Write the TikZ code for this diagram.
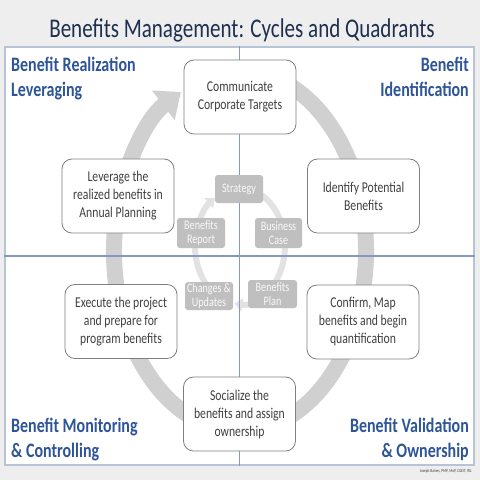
\documentclass[tikz,border=0pt]{standalone}
\usepackage{fontspec}
\setmainfont{Carlito}[FakeStretch=0.78]
\usetikzlibrary{arrows.meta, calc}
\definecolor{pageGrey}{HTML}{EEEEEE}
\definecolor{titleInk}{HTML}{1F2F4F}
\definecolor{quadBlue}{HTML}{2E5597}
\definecolor{quadLine}{HTML}{8199C4}
\definecolor{frameLine}{HTML}{B7C4D8}
\definecolor{boxInk}{HTML}{404040}
\definecolor{boxLine}{HTML}{7F7F7F}
\definecolor{cycleGrey}{HTML}{D0D0D0}
\definecolor{innerGrey}{HTML}{E2E2E2}
\definecolor{innerFill}{HTML}{BFBFBF}

\begin{document}
\begin{tikzpicture}[
    x=1pt, y=-1pt,
    box/.style={
        rectangle,
        rounded corners=3.5mm,
        draw=boxLine,
        fill=white,
        line width=0.8pt,
        minimum width=112pt,
        minimum height=74pt,
        align=center,
        text=boxInk,
        font=\fontsize{15}{18}\selectfont
    },
    smallbox/.style={
        rectangle,
        rounded corners=1mm,
        fill=innerFill,
        minimum width=48pt,
        minimum height=29pt,
        inner sep=1pt,
        align=center,
        text=white!95!gray,
        font=\fontsize{13}{14}\selectfont
    },
    quadlabel/.style={
        font=\bfseries\fontsize{20.5}{25}\selectfont,
        text=quadBlue,
        inner sep=0pt
    },
    cyclearrow/.style={
        -{Triangle[width=36pt, length=22pt]},
        line width=16pt,
        draw=cycleGrey
    },
    innerarrow/.style={
        -{Triangle[width=13pt, length=8pt]},
        line width=6pt,
        draw=innerGrey
    }
]

% Page and frame
\fill[pageGrey] (0,0) rectangle (480,480);
\node[draw=frameLine, fill=white, line width=1.5pt, minimum width=469pt, minimum height=418pt, inner sep=0pt] (frame) at (239.5,256) {};
\node[font=\fontsize{27}{32}\selectfont, text=titleInk, anchor=base] (title) at (242,37) {Benefits Management: Cycles and Quadrants};

% Outer cycle
\coordinate (oc) at (240,251);
\draw[cyclearrow] (oc) ++(-80:126 and 180) arc[start angle=-80, end angle=242, x radius=126, y radius=180];

% Inner cycle
\coordinate (ic) at (240,246);
\draw[innerarrow] (ic) ++(-70:45 and 58) arc[start angle=-70, end angle=97, x radius=45, y radius=58];
\draw[innerarrow] (ic) ++(130:45 and 58) arc[start angle=130, end angle=236, x radius=45, y radius=58];

% Quadrants
\draw[quadLine, line width=1.3pt] (frame.north) -- (frame.south);
\draw[quadLine, line width=1.3pt] (frame.west) -- (frame.east);

% Main cycle steps
\node[box] (communicate) at (240,97) {Communicate\\Corporate Targets};
\node[box] (identify) at (363.5,196) {Identify Potential\\Benefits};
\node[box] (confirm) at (363,322) {Confirm, Map\\benefits and begin\\quantification};
\node[box] (socialize) at (239.5,414) {Socialize the\\benefits and assign\\ownership};
\node[box] (execute) at (121,321.5) {Execute the project\\and prepare for\\program benefits};
\node[box] (leverage) at (118,196) {Leverage the\\realized benefits in\\Annual Planning};

% Inner cycle steps
\node[smallbox, minimum height=28pt] (strategy) at (239,189) {Strategy};
\node[smallbox, minimum width=47pt, minimum height=30pt] (bcase) at (278.5,233) {Business\\Case};
\node[smallbox, minimum width=49pt, minimum height=28pt] (bplan) at (272.5,294) {Benefits\\Plan};
\node[smallbox, minimum height=28pt] (changes) at (209,296) {Changes \&\\Updates};
\node[smallbox, minimum height=30pt] (breport) at (201,233) {Benefits\\Report};

% Quadrant names
\node[quadlabel, anchor=north west, align=left] (realize) at (11,57) {Benefit Realization\\Leveraging};
\node[quadlabel, anchor=north east, align=right] (identq) at (469,57) {Benefit\\Identification};
\node[quadlabel, anchor=north west, align=left] (monitor) at (11,418) {Benefit Monitoring\\\& Controlling};
\node[quadlabel, anchor=north east, align=right] (validate) at (469,418) {Benefit Validation\\\& Ownership};

\node[font=\fontsize{4.5}{5}\selectfont, text=boxInk, anchor=base east, inner sep=0pt] (credit) at (472,472) {Joseph Baines, PMP, MoP, CGEIT, ITIL};

\end{tikzpicture}
\end{document}
